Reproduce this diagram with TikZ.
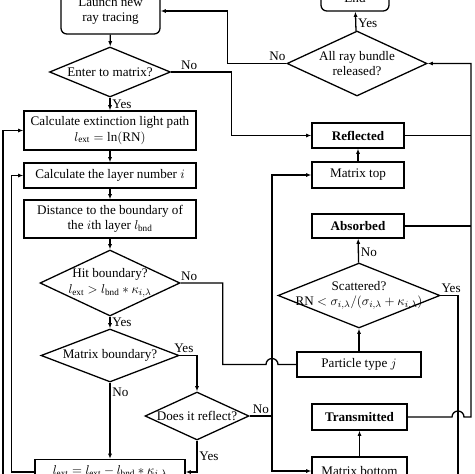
\documentclass[tikz,border=0pt]{standalone}
\usepackage{fontspec}
\setmainfont{Liberation Serif}
\usetikzlibrary{shapes.geometric,arrows.meta}

\begin{document}
\begin{tikzpicture}[x=0.03cm, y=-0.03cm, line width=1.1pt,
        font=\fontsize{11.2}{13}\selectfont,
        box/.style={draw, rectangle, align=center, inner sep=1pt},
        startstop/.style={box, rounded corners=5pt},
        decision/.style={draw, diamond, inner sep=0pt},
        arr/.style={-{Latex[length=4.5pt,width=3.5pt]}},
        lbl/.style={inner sep=1.5pt}]
                \useasboundingbox (0,0) rectangle (474,474);
                \clip (0,0) rectangle (474,474);
                % left column
                \node[startstop, minimum width=2.97cm, minimum height=1.38cm] (launch) at (110.5,11) {Launch new\\ray tracing};
                \node[decision, minimum width=3.63cm, minimum height=1.5cm, label={center:Enter to matrix?}] (enter) at (110,72) {};
                \node[box, minimum width=5.16cm, minimum height=1.17cm] (calc1) at (110,130.5) {Calculate extinction light path\\$l_{\mathrm{ext}}=\ln(\mathrm{RN})$};
                \node[box, minimum width=5.16cm, minimum height=0.75cm] (layer) at (110,175.5) {Calculate the layer number $i$};
                \node[box, minimum width=5.16cm, minimum height=1.14cm] (dist) at (110,219) {Distance to the boundary of\\the $i$th layer $l_{\mathrm{bnd}}$};
                \node[decision, minimum width=4.2cm, minimum height=1.98cm, label={[align=center]center:Hit boundary?\\$l_{\mathrm{ext}}>l_{\mathrm{bnd}}*\kappa_{i,\lambda}$}] (hit) at (110,283) {};
                \node[decision, minimum width=4.14cm, minimum height=1.59cm, label={center:Matrix boundary?}] (mbound) at (110,355.5) {};
                \node[decision, minimum width=3.12cm, minimum height=1.44cm, label={center:Does it reflect?}] (reflect) at (197,416) {};
                \node[box, minimum width=4.5cm, minimum height=0.75cm] (last) at (110,472) {$l_{\mathrm{ext}}=l_{\mathrm{ext}}-l_{\mathrm{bnd}}*\kappa_{i,\lambda}$};
                % right column
                \node[startstop, minimum width=2.04cm, minimum height=0.75cm] (finish) at (355,-1.5) {End};
                \node[decision, minimum width=4.2cm, minimum height=1.95cm, label={[align=center]center:All ray bundle\\released?}] (release) at (357,63.5) {};
                \node[box, minimum width=2.76cm, minimum height=0.75cm] (reflected) at (358,135.5) {\textbf{Reflected}};
                \node[box, minimum width=2.76cm, minimum height=0.78cm] (mtop) at (358,175) {Matrix top};
                \node[box, minimum width=2.76cm, minimum height=0.72cm] (absorbed) at (358,226) {\textbf{Absorbed}};
                \node[decision, minimum width=4.86cm, minimum height=1.95cm, label={[align=center]center:Scattered?\\RN $<\sigma_{i,\lambda}/(\sigma_{i,\lambda}+\kappa_{i,\lambda})$}] (scat) at (359,295.5) {};
                \node[box, minimum width=3.72cm, minimum height=0.75cm] (particle) at (359,364.5) {Particle type $j$};
                \node[box, minimum width=2.85cm, minimum height=0.78cm] (transmitted) at (359.5,417) {\textbf{Transmitted}};
                \node[box, minimum width=2.85cm, minimum height=0.84cm] (mbot) at (359.5,471) {Matrix bottom};
                % bends
                \coordinate (split) at (272,416);
                \coordinate (rail) at (471,63.5);
                \coordinate (rloop) at (458,492);
                \coordinate (lloop) at (3,492);
                % main flow
                \draw[arr] (launch) -- (enter);
                \draw[arr] (enter) -- node[lbl, right, pos=0.55] {Yes} (calc1);
                \draw[arr] (enter.east) -- node[lbl, above, pos=0.3] {No} ++(60,0) |- (reflected.west);
                \draw[arr] (calc1) -- (layer);
                \draw[arr] (layer) -- (dist);
                \draw[arr] (dist) -- (hit);
                \draw[arr] (hit) -- node[lbl, right, pos=0.5] {Yes} (mbound);
                \draw (hit.east) -- node[lbl, above, pos=0.2] {No} ++(42,0) |- ([xshift=-0.18cm]split |- particle.west)
                        arc[start angle=180, end angle=0, radius=0.18cm] -- (particle.west);
                \draw[arr] (mbound) -- node[lbl, right, pos=0.12] {No} (last);
                \draw[arr] (mbound.east) -| node[lbl, above, pos=0.12] {Yes} (reflect.north);
                \draw[arr] (reflect.south) |- node[lbl, right, pos=0.25] {Yes} (last.east);
                \draw (reflect.east) -- node[lbl, above] {No} (split);
                \draw[arr] (split) |- (mtop.west);
                \draw[arr] (split) |- (mbot.west);
                \draw[arr] (last.west) -- ++(-23,0) |- (layer.west);
                % right side
                \draw[arr] (mtop) -- (reflected);
                \draw[arr] (particle) -- (scat);
                \draw[arr] (scat) -- node[lbl, right, pos=0.45] {No} (absorbed);
                \draw[arr] (scat.east) -| node[lbl, above, pos=0.3] {Yes} (rloop) -- (lloop) |- (calc1.west);
                \draw[arr] (mbot) -- (transmitted);
                \draw (reflected.east) -- (rail |- reflected.east);
                \draw (absorbed.east) -- (rail |- absorbed.east);
                \draw[arr] (transmitted.east) -- ([xshift=-0.18cm]rloop |- transmitted.east)
                        arc[start angle=180, end angle=0, radius=0.18cm] -- (rail |- transmitted.east) |- (release.east);
                \draw[arr] (release.west) -- node[lbl, above, pos=0.15] {No} ++(-59,0) |- (launch.east);
                \draw[arr] (release) -- node[lbl, right, pos=0.4] {Yes} (finish);
\end{tikzpicture}
\end{document}
